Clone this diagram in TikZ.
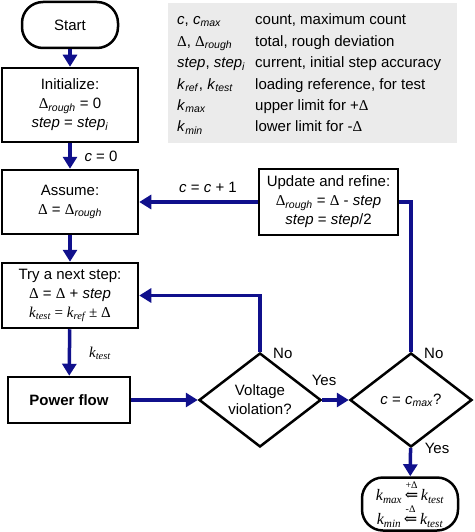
\documentclass[tikz,border=0pt]{standalone}
\usepackage{amsmath}
\usepackage{fontspec}
\setmainfont{Liberation Sans}
\newfontfamily\tmfont{Liberation Serif}
\newfontfamily\djfont{DejaVu Serif}
\usetikzlibrary{arrows.meta,shapes.geometric}
\definecolor{flowblue}{RGB}{16,16,140}
\definecolor{legendgray}{RGB}{235,235,235}
\newcommand{\iv}[1]{\textit{#1}}
\newcommand{\isub}[1]{\textsubscript{\textit{#1}}}
\newcommand{\D}{{\tmfont Δ}}
\newcommand{\tk}[1]{{\tmfont\itshape k\textsubscript{#1}}}
\newcommand{\larr}[1]{\ensuremath{\overset{\text{\fontsize{10}{10}\selectfont\tmfont #1}}{\text{\djfont\fontsize{16}{16}\selectfont ⇐}}}}
\begin{document}
\begin{tikzpicture}[x=1pt,y=-1pt,
  font=\fontsize{15}{19}\selectfont,
  box/.style={draw=black,line width=2.5pt,align=center,inner sep=0pt},
  proc/.style={box,rectangle,minimum width=136pt},
  term/.style={box,rectangle,rounded corners=21pt},
  dec/.style={box,diamond,aspect=1.3,minimum width=122pt,minimum height=94pt},
  flow/.style={draw=flowblue,line width=3.5pt,-{Triangle[length=12pt,width=14pt]}},
  link/.style={draw=flowblue,line width=3.5pt},
  lbl/.style={inner sep=0pt}]
\useasboundingbox (0,0) rectangle (474,532);

% legend
\node[fill=legendgray,minimum width=289pt,minimum height=140pt,inner sep=0pt] (legend) at (312.5,73) {};
\node[lbl,anchor=west,align=left] (legtext) at (177,74) {\renewcommand{\arraystretch}{1.13}%
\begin{tabular}{@{}p{78pt}@{}l@{}}
\iv{c}, \iv{c}\isub{max} & count, maximum count\\
\D, \D\isub{rough} & total, rough deviation\\
\iv{step}, \iv{step}\isub{i} & current, initial step accuracy\\
\iv{k}\isub{ref}, \iv{k}\isub{test} & loading reference, for test\\
\iv{k}\isub{max} & upper limit for +\D\\
\iv{k}\isub{min} & lower limit for -\D
\end{tabular}};

% nodes
\node[term,minimum width=96pt,minimum height=46pt] (start) at (70,25) {Start};
\node[proc,minimum height=74pt] (init) at (70,105) {Initialize:\\ \D\isub{rough} = 0\\ \iv{step} = \iv{step}\isub{i}};
\node[proc,minimum height=64pt] (assume) at (70,202) {Assume:\\ \D{} = \D\isub{rough}};
\node[proc,minimum height=65pt] (try) at (70,295.5) {Try a next step:\\ \D{} = \D{} + \iv{step}\\ {\tmfont\tk{test} = \tk{ref} ± Δ}};
\node[proc,minimum width=122pt,minimum height=46pt] (power) at (69,400) {\bfseries Power flow};
\node[dec] (volt) at (260,400) {Voltage\\violation?};
\node[dec] (cdia) at (411,400) {\iv{c} = \iv{c}\isub{max}?};
\node[proc,minimum width=139pt,minimum height=66pt] (update) at (328.5,202) {Update and refine:\\ \D\isub{rough} = \D{} - \iv{step}\\ \iv{step} = \iv{step}/2};
\node[term,minimum width=96pt,minimum height=53pt,font=\fontsize{16}{19}\selectfont] (final) at (410,504) {\tk{max}\,\larr{+Δ}\,\tk{test}\\[0pt] \tk{min}\,\larr{-Δ}\,\tk{test}};

% connectors
\draw[flow] (start) -- (init);
\draw[flow] (init) -- (assume);
\draw[flow] (assume) -- (try);
\draw[flow] (try) -- (power);
\draw[flow] (power) -- (volt);
\draw[flow] (volt) -- (cdia);
\draw[flow] (volt.north) |- (try.east);
\draw[link] (cdia.north) |- (update.east);
\draw[flow] (update) -- (assume);
\draw[flow] (cdia) -- (final);

% labels
\node[lbl] (l0) at (101,156) {\iv{c} = 0};
\node[lbl] (lk) at (100,353) {\tk{test}};
\node[lbl] (lc) at (208,187) {\iv{c} = \iv{c} + 1};
\node[lbl,anchor=west] (no1) at (273,353) {No};
\node[lbl,anchor=west] (no2) at (424,353) {No};
\node[lbl] (yes1) at (324,380) {Yes};
\node[lbl] (yes2) at (437,448) {Yes};
\end{tikzpicture}
\end{document}
